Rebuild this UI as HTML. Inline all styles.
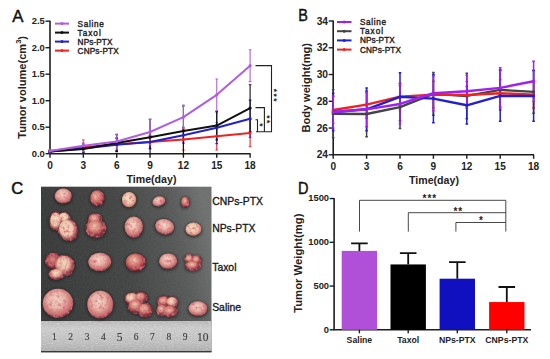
<!DOCTYPE html>
<html><head><meta charset="utf-8"><style>
html,body{margin:0;padding:0;background:#fff;width:550px;height:359px;overflow:hidden}
svg{display:block}
text{font-family:"Liberation Sans", sans-serif}
.serif{font-family:"Liberation Serif",serif}
</style></head><body>
<svg width="550" height="359" viewBox="0 0 550 359">
<defs>
<linearGradient id="ruler" x1="0" y1="0" x2="0" y2="1">
<stop offset="0" stop-color="#b8b8b8"/><stop offset="0.25" stop-color="#cacaca"/><stop offset="0.7" stop-color="#bebebe"/><stop offset="1" stop-color="#acacac"/></linearGradient>
<linearGradient id="bg" x1="0" y1="0.55" x2="1" y2="0.35"><stop offset="0" stop-color="#333534"/><stop offset="0.5" stop-color="#3f4140"/><stop offset="0.82" stop-color="#555756"/><stop offset="1" stop-color="#6c6e6d"/></linearGradient>
<radialGradient id="tp" cx="0.45" cy="0.4" r="0.62"><stop offset="0" stop-color="#f4d6c8"/><stop offset="0.45" stop-color="#e6b4a6"/><stop offset="0.8" stop-color="#c4706c"/><stop offset="1" stop-color="#62242c"/></radialGradient>
<radialGradient id="tr" cx="0.42" cy="0.38" r="0.64"><stop offset="0" stop-color="#f2ccb0"/><stop offset="0.35" stop-color="#d8927c"/><stop offset="0.75" stop-color="#ac3c44"/><stop offset="1" stop-color="#5a1c24"/></radialGradient>
<radialGradient id="td" cx="0.45" cy="0.42" r="0.62"><stop offset="0" stop-color="#d89080"/><stop offset="0.6" stop-color="#a84a50"/><stop offset="1" stop-color="#5a2430"/></radialGradient>
<radialGradient id="tl" cx="0.45" cy="0.42" r="0.62"><stop offset="0" stop-color="#f6e2c8"/><stop offset="0.55" stop-color="#ecc4a8"/><stop offset="0.85" stop-color="#cc8a78"/><stop offset="1" stop-color="#7a3a3e"/></radialGradient>
<filter id="mot" x="-10%" y="-10%" width="120%" height="120%">
<feTurbulence type="fractalNoise" baseFrequency="0.3" numOctaves="3" seed="11" result="n"/>
<feColorMatrix in="n" type="matrix" values="0 0 0 0 0.70  0 0 0 0 0.16  0 0 0 0 0.22  0 0 0 -2.6 1.45" result="spots"/>
<feComposite in="spots" in2="SourceAlpha" operator="in" result="sp"/>
<feMerge result="m"><feMergeNode in="SourceGraphic"/><feMergeNode in="sp"/></feMerge>
<feGaussianBlur in="m" stdDeviation="0.55"/>
</filter>
<filter id="grain" x="0" y="0" width="100%" height="100%">
<feTurbulence type="fractalNoise" baseFrequency="0.6" numOctaves="1" seed="3"/>
<feColorMatrix type="matrix" values="0 0 0 0 0.5  0 0 0 0 0.5  0 0 0 0 0.5  1 0 0 0 0"/>
<feComposite in2="SourceAlpha" operator="in"/>
</filter>
<filter id="grain2" x="0" y="0" width="100%" height="100%">
<feTurbulence type="fractalNoise" baseFrequency="0.35 0.9" numOctaves="2" seed="5"/>
<feColorMatrix type="matrix" values="0 0 0 0 1  0 0 0 0 1  0 0 0 0 1  0 0 0 -2 1.1"/>
<feComposite in2="SourceAlpha" operator="in"/>
</filter>
<filter id="shad" x="-20%" y="-20%" width="140%" height="140%"><feGaussianBlur stdDeviation="0.8"/></filter>
<radialGradient id="bp" cx="0.45" cy="0.4" r="0.6"><stop offset="0" stop-color="#f4dcc4"/><stop offset="0.55" stop-color="#e6b8a0"/><stop offset="1" stop-color="#c47468" stop-opacity="0"/></radialGradient>
<radialGradient id="br" cx="0.42" cy="0.38" r="0.6"><stop offset="0" stop-color="#f0c4aa"/><stop offset="0.45" stop-color="#d48c7a"/><stop offset="1" stop-color="#ac3c44" stop-opacity="0"/></radialGradient>
<radialGradient id="bl" cx="0.45" cy="0.42" r="0.6"><stop offset="0" stop-color="#f6e2c8"/><stop offset="0.6" stop-color="#ecc4a8"/><stop offset="1" stop-color="#cc8a78" stop-opacity="0"/></radialGradient>
<radialGradient id="bd" cx="0.45" cy="0.42" r="0.6"><stop offset="0" stop-color="#d89080"/><stop offset="0.6" stop-color="#a84a50"/><stop offset="1" stop-color="#8a3a40" stop-opacity="0"/></radialGradient>
<filter id="soft"><feGaussianBlur stdDeviation="0.35"/></filter>
</defs>
<rect width="550" height="359" fill="#fff"/>
<rect x="41" y="186.7" width="170.5" height="165.5" fill="url(#bg)"/><rect x="41" y="186.7" width="170.5" height="134.5" fill="#808080" filter="url(#grain)" opacity="0.12"/><rect x="41" y="321" width="170.5" height="30.5" fill="url(#ruler)"/><rect x="41" y="321" width="170.5" height="30.5" fill="#888" filter="url(#grain2)" opacity="0.35"/><rect x="41" y="351" width="170.5" height="1.3" fill="#3a3a3a"/><g filter="url(#soft)"><text x="54.3" y="339.8" class="serif" font-size="9.5" text-anchor="middle" fill="#404040" stroke="#404040" stroke-width="0.15">1</text><text x="70.65" y="339.8" class="serif" font-size="9.5" text-anchor="middle" fill="#404040" stroke="#404040" stroke-width="0.15">2</text><text x="87" y="339.8" class="serif" font-size="9.5" text-anchor="middle" fill="#404040" stroke="#404040" stroke-width="0.15">3</text><text x="103.35" y="339.8" class="serif" font-size="9.5" text-anchor="middle" fill="#404040" stroke="#404040" stroke-width="0.15">4</text><text x="119.7" y="340.6" class="serif" font-size="11.5" text-anchor="middle" fill="#404040" stroke="#404040" stroke-width="0.15">5</text><text x="136.05" y="339.8" class="serif" font-size="9.5" text-anchor="middle" fill="#404040" stroke="#404040" stroke-width="0.15">6</text><text x="152.4" y="339.8" class="serif" font-size="9.5" text-anchor="middle" fill="#404040" stroke="#404040" stroke-width="0.15">7</text><text x="168.75" y="339.8" class="serif" font-size="9.5" text-anchor="middle" fill="#404040" stroke="#404040" stroke-width="0.15">8</text><text x="185.1" y="339.8" class="serif" font-size="9.5" text-anchor="middle" fill="#404040" stroke="#404040" stroke-width="0.15">9</text><text x="202.75" y="340.6" class="serif" font-size="11.5" text-anchor="middle" fill="#404040" stroke="#404040" stroke-width="0.15">10</text></g><g fill="#1e1a1a" opacity="0.55" filter="url(#shad)"><ellipse cx="63.3" cy="196.8" rx="9.799999999999999" ry="8.7"/><ellipse cx="97.3" cy="198.9" rx="8.299999999999999" ry="9.1"/><ellipse cx="129.1" cy="200.5" rx="8.299999999999999" ry="8.799999999999999"/><ellipse cx="159" cy="202.10000000000002" rx="7.8" ry="6.1000000000000005" transform="rotate(-15 159 201.3)"/><ellipse cx="185.2" cy="202.8" rx="5.3" ry="6.4"/><ellipse cx="55.8" cy="221.8" rx="7.4" ry="10.399999999999999"/><ellipse cx="64" cy="218.3" rx="7.2" ry="6.2"/><ellipse cx="68" cy="230.60000000000002" rx="10.799999999999999" ry="12.399999999999999" transform="rotate(-20 68 229.8)"/><ellipse cx="95" cy="220.3" rx="8.2" ry="7.2"/><ellipse cx="96" cy="229.3" rx="11.399999999999999" ry="10.5"/><ellipse cx="133.8" cy="227.8" rx="10.399999999999999" ry="11.7"/><ellipse cx="164.7" cy="227.60000000000002" rx="10.799999999999999" ry="8.799999999999999" transform="rotate(15 164.7 226.8)"/><ellipse cx="193.5" cy="230.0" rx="9.1" ry="7.8"/><ellipse cx="53.2" cy="261.40000000000003" rx="9.0" ry="9.0"/><ellipse cx="64.4" cy="266.3" rx="11.2" ry="11.7"/><ellipse cx="56.6" cy="274.8" rx="9.0" ry="6.7"/><ellipse cx="99.8" cy="262.8" rx="12.6" ry="10.399999999999999"/><ellipse cx="135.7" cy="263.2" rx="11.2" ry="10.1"/><ellipse cx="168.2" cy="262.1" rx="10.299999999999999" ry="9.0"/><ellipse cx="189.5" cy="259.8" rx="6.0" ry="5.7"/><ellipse cx="196.5" cy="260.8" rx="6.0" ry="5.7"/><ellipse cx="193" cy="266.3" rx="9.0" ry="6.2"/><ellipse cx="58" cy="304.0" rx="16.4" ry="15.7"/><ellipse cx="100.3" cy="305.40000000000003" rx="14.2" ry="15.1"/><ellipse cx="132" cy="299.3" rx="8.2" ry="7.2"/><ellipse cx="141" cy="298.3" rx="7.7" ry="6.7"/><ellipse cx="136" cy="306.8" rx="9.2" ry="8.7"/><ellipse cx="145" cy="310.8" rx="8.7" ry="8.2"/><ellipse cx="164" cy="302.3" rx="7.7" ry="6.7"/><ellipse cx="172" cy="302.8" rx="7.2" ry="6.7"/><ellipse cx="162" cy="310.8" rx="6.7" ry="7.2"/><ellipse cx="170" cy="311.8" rx="8.7" ry="7.0"/><ellipse cx="198" cy="309.40000000000003" rx="10.7" ry="8.5"/></g><g filter="url(#mot)"><ellipse cx="63.3" cy="196" rx="8.6" ry="7.5" fill="url(#tp)"/><ellipse cx="97.3" cy="198.1" rx="7.1" ry="7.9" fill="url(#tr)"/><ellipse cx="129.1" cy="199.7" rx="7.1" ry="7.6" fill="url(#tl)"/><ellipse cx="159" cy="201.3" rx="6.6" ry="4.9" fill="url(#tp)" transform="rotate(-15 159 201.3)"/><ellipse cx="185.2" cy="202" rx="4.1" ry="5.2" fill="url(#tr)"/><g><ellipse cx="55.8" cy="221" rx="6.5" ry="9.5" fill="#7a3038"/><ellipse cx="64" cy="217.5" rx="6.3" ry="5.3" fill="#7a3038"/><ellipse cx="68" cy="229.8" rx="9.9" ry="11.5" fill="#7a3038" transform="rotate(-20 68 229.8)"/><ellipse cx="55.8" cy="221" rx="5.77" ry="8.56" fill="url(#bl)"/><ellipse cx="64" cy="217.5" rx="5.58" ry="4.65" fill="url(#bl)"/><ellipse cx="68" cy="229.8" rx="8.93" ry="10.42" fill="url(#bl)" transform="rotate(-20 68 229.8)"/></g><g><ellipse cx="95" cy="219.5" rx="7.3" ry="6.3" fill="#7a3038"/><ellipse cx="96" cy="228.5" rx="10.5" ry="9.600000000000001" fill="#7a3038"/><ellipse cx="95" cy="219.5" rx="6.51" ry="5.58" fill="url(#br)"/><ellipse cx="96" cy="228.5" rx="9.49" ry="8.65" fill="url(#br)"/></g><ellipse cx="133.8" cy="227" rx="9.2" ry="10.5" fill="url(#tp)"/><ellipse cx="164.7" cy="226.8" rx="9.6" ry="7.6" fill="url(#tp)" transform="rotate(15 164.7 226.8)"/><ellipse cx="193.5" cy="229.2" rx="7.9" ry="6.6" fill="url(#tl)"/><g><ellipse cx="53.2" cy="260.6" rx="8.1" ry="8.1" fill="#7a3038"/><ellipse cx="64.4" cy="265.5" rx="10.3" ry="10.8" fill="#7a3038"/><ellipse cx="56.6" cy="274" rx="8.1" ry="5.8" fill="#7a3038"/><ellipse cx="53.2" cy="260.6" rx="7.25" ry="7.25" fill="url(#bd)"/><ellipse cx="64.4" cy="265.5" rx="9.3" ry="9.77" fill="url(#bp)"/><ellipse cx="56.6" cy="274" rx="7.25" ry="5.12" fill="url(#bp)"/></g><ellipse cx="99.8" cy="262" rx="11.4" ry="9.2" fill="url(#tp)"/><ellipse cx="135.7" cy="262.4" rx="10" ry="8.9" fill="url(#tr)"/><ellipse cx="168.2" cy="261.3" rx="9.1" ry="7.8" fill="url(#tp)"/><g><ellipse cx="189.5" cy="259" rx="5.1" ry="4.8" fill="#7a3038"/><ellipse cx="196.5" cy="260" rx="5.1" ry="4.8" fill="#7a3038"/><ellipse cx="193" cy="265.5" rx="8.1" ry="5.3" fill="#7a3038"/><ellipse cx="189.5" cy="259" rx="4.46" ry="4.19" fill="url(#br)"/><ellipse cx="196.5" cy="260" rx="4.46" ry="4.19" fill="url(#br)"/><ellipse cx="193" cy="265.5" rx="7.25" ry="4.65" fill="url(#br)"/></g><ellipse cx="58" cy="303.2" rx="15.2" ry="14.5" fill="url(#tp)"/><ellipse cx="100.3" cy="304.6" rx="13" ry="13.9" fill="url(#tp)"/><g><ellipse cx="132" cy="298.5" rx="7.3" ry="6.3" fill="#7a3038"/><ellipse cx="141" cy="297.5" rx="6.8" ry="5.8" fill="#7a3038"/><ellipse cx="136" cy="306" rx="8.3" ry="7.8" fill="#7a3038"/><ellipse cx="145" cy="310" rx="7.8" ry="7.3" fill="#7a3038"/><ellipse cx="132" cy="298.5" rx="6.51" ry="5.58" fill="url(#bp)"/><ellipse cx="141" cy="297.5" rx="6.04" ry="5.12" fill="url(#br)"/><ellipse cx="136" cy="306" rx="7.44" ry="6.98" fill="url(#br)"/><ellipse cx="145" cy="310" rx="6.98" ry="6.51" fill="url(#br)"/></g><g><ellipse cx="164" cy="301.5" rx="6.8" ry="5.8" fill="#7a3038"/><ellipse cx="172" cy="302" rx="6.3" ry="5.8" fill="#7a3038"/><ellipse cx="162" cy="310" rx="5.8" ry="6.3" fill="#7a3038"/><ellipse cx="170" cy="311" rx="7.8" ry="6.1" fill="#7a3038"/><ellipse cx="164" cy="301.5" rx="6.04" ry="5.12" fill="url(#br)"/><ellipse cx="172" cy="302" rx="5.58" ry="5.12" fill="url(#bp)"/><ellipse cx="162" cy="310" rx="5.12" ry="5.58" fill="url(#br)"/><ellipse cx="170" cy="311" rx="6.98" ry="5.39" fill="url(#br)"/></g><ellipse cx="198" cy="308.6" rx="9.5" ry="7.3" fill="url(#tp)"/></g><g fill="#161616" stroke="#161616" stroke-width="0.32" font-size="10.4"><text x="212.2" y="205.2">CNPs-PTX</text><text x="212.2" y="232">NPs-PTX</text><text x="212.2" y="271.2">Taxol</text><text x="212.2" y="310.8">Saline</text></g>
<text x="12.3" y="21.6" font-size="16.8" stroke="#111" stroke-width="0.45" fill="#111">A</text><text transform="translate(298.3,21.4) scale(0.86,1)" font-size="16.8" stroke="#111" stroke-width="0.45" fill="#111">B</text><text x="11.3" y="193.5" font-size="16.5" stroke="#111" stroke-width="0.55" fill="#111">C</text><text transform="translate(298,193.6) scale(0.88,1)" font-size="16.5" stroke="#111" stroke-width="0.45" fill="#111">D</text><path d="M50.0,20.69999999999999 V153.7 H250.60000000000002" stroke="#1e1e1e" stroke-width="1.6" fill="none"/><path d="M45.5,153.7 H50.0" stroke="#1e1e1e" stroke-width="1.4"/><text x="44.8" y="156.6" font-size="9.4" font-weight="bold" text-anchor="end" fill="#222">0.0</text><path d="M45.5,127.2 H50.0" stroke="#1e1e1e" stroke-width="1.4"/><text x="44.8" y="130.1" font-size="9.4" font-weight="bold" text-anchor="end" fill="#222">0.5</text><path d="M45.5,100.7 H50.0" stroke="#1e1e1e" stroke-width="1.4"/><text x="44.8" y="103.6" font-size="9.4" font-weight="bold" text-anchor="end" fill="#222">1.0</text><path d="M45.5,74.2 H50.0" stroke="#1e1e1e" stroke-width="1.4"/><text x="44.8" y="77.1" font-size="9.4" font-weight="bold" text-anchor="end" fill="#222">1.5</text><path d="M45.5,47.7 H50.0" stroke="#1e1e1e" stroke-width="1.4"/><text x="44.8" y="50.6" font-size="9.4" font-weight="bold" text-anchor="end" fill="#222">2.0</text><path d="M45.5,21.2 H50.0" stroke="#1e1e1e" stroke-width="1.4"/><text x="44.8" y="24.1" font-size="9.4" font-weight="bold" text-anchor="end" fill="#222">2.5</text><path d="M50,153.7 V157.7" stroke="#1e1e1e" stroke-width="1.4"/><text x="50" y="169" font-size="10.1" font-weight="bold" text-anchor="middle" fill="#222">0</text><path d="M83.35,153.7 V157.7" stroke="#1e1e1e" stroke-width="1.4"/><text x="83.35" y="169" font-size="10.1" font-weight="bold" text-anchor="middle" fill="#222">3</text><path d="M116.7,153.7 V157.7" stroke="#1e1e1e" stroke-width="1.4"/><text x="116.7" y="169" font-size="10.1" font-weight="bold" text-anchor="middle" fill="#222">6</text><path d="M150.05,153.7 V157.7" stroke="#1e1e1e" stroke-width="1.4"/><text x="150.05" y="169" font-size="10.1" font-weight="bold" text-anchor="middle" fill="#222">9</text><path d="M183.4,153.7 V157.7" stroke="#1e1e1e" stroke-width="1.4"/><text x="183.4" y="169" font-size="10.1" font-weight="bold" text-anchor="middle" fill="#222">12</text><path d="M216.75,153.7 V157.7" stroke="#1e1e1e" stroke-width="1.4"/><text x="216.75" y="169" font-size="10.1" font-weight="bold" text-anchor="middle" fill="#222">15</text><path d="M250.1,153.7 V157.7" stroke="#1e1e1e" stroke-width="1.4"/><text x="250.1" y="169" font-size="10.1" font-weight="bold" text-anchor="middle" fill="#222">18</text><text x="151.5" y="182.5" font-size="10.6" font-weight="bold" text-anchor="middle" fill="#222">Time(day)</text><text transform="translate(26.4,87.4) rotate(-90)" font-size="11.05" font-weight="bold" text-anchor="middle" fill="#222">Tumor volume(cm<tspan font-size="7.5" dy="-5">3</tspan><tspan dy="5">)</tspan></text><path d="M50,149.46 V152.64 M48.7,149.46 H51.3 M48.7,152.64 H51.3" stroke="#ee2222" stroke-width="1.1" fill="none"/><path d="M83.35,143.1 V151.58 M82.05,143.1 H84.65 M82.05,151.58 H84.65" stroke="#ee2222" stroke-width="1.1" fill="none"/><path d="M116.7,137.8 V150.52 M115.4,137.8 H118 M115.4,150.52 H118" stroke="#ee2222" stroke-width="1.1" fill="none"/><path d="M150.05,135.15 V148.93 M148.75,135.15 H151.35 M148.75,148.93 H151.35" stroke="#ee2222" stroke-width="1.1" fill="none"/><path d="M183.4,128.79 V149.99 M182.1,128.79 H184.7 M182.1,149.99 H184.7" stroke="#ee2222" stroke-width="1.1" fill="none"/><path d="M216.75,122.43 V149.99 M215.45,122.43 H218.05 M215.45,149.99 H218.05" stroke="#ee2222" stroke-width="1.1" fill="none"/><path d="M250.1,119.25 V146.81 M248.8,119.25 H251.4 M248.8,146.81 H251.4" stroke="#ee2222" stroke-width="1.1" fill="none"/><path d="M50,150.52 V152.64 M48.7,150.52 H51.3 M48.7,152.64 H51.3" stroke="#2222c8" stroke-width="1.1" fill="none"/><path d="M83.35,144.69 V152.11 M82.05,144.69 H84.65 M82.05,152.11 H84.65" stroke="#2222c8" stroke-width="1.1" fill="none"/><path d="M116.7,138.33 V151.05 M115.4,138.33 H118 M115.4,151.05 H118" stroke="#2222c8" stroke-width="1.1" fill="none"/><path d="M150.05,135.68 V148.4 M148.75,135.68 H151.35 M148.75,148.4 H151.35" stroke="#2222c8" stroke-width="1.1" fill="none"/><path d="M183.4,127.2 V143.1 M182.1,127.2 H184.7 M182.1,143.1 H184.7" stroke="#2222c8" stroke-width="1.1" fill="none"/><path d="M216.75,111.83 V143.63 M215.45,111.83 H218.05 M215.45,143.63 H218.05" stroke="#2222c8" stroke-width="1.1" fill="none"/><path d="M250.1,100.17 V137.27 M248.8,100.17 H251.4 M248.8,137.27 H251.4" stroke="#2222c8" stroke-width="1.1" fill="none"/><path d="M50,150.52 V152.64 M48.7,150.52 H51.3 M48.7,152.64 H51.3" stroke="#111111" stroke-width="1.1" fill="none"/><path d="M83.35,145.75 V152.11 M82.05,145.75 H84.65 M82.05,152.11 H84.65" stroke="#111111" stroke-width="1.1" fill="none"/><path d="M116.7,134.62 V151.58 M115.4,134.62 H118 M115.4,151.58 H118" stroke="#111111" stroke-width="1.1" fill="none"/><path d="M150.05,119.25 V153.7 M148.75,119.25 H151.35 M148.75,153.7 H151.35" stroke="#111111" stroke-width="1.1" fill="none"/><path d="M183.4,106 V153.7 M182.1,106 H184.7 M182.1,153.7 H184.7" stroke="#111111" stroke-width="1.1" fill="none"/><path d="M216.75,111.3 V139.92 M215.45,111.3 H218.05 M215.45,139.92 H218.05" stroke="#111111" stroke-width="1.1" fill="none"/><path d="M250.1,84.8 V131.44 M248.8,84.8 H251.4 M248.8,131.44 H251.4" stroke="#111111" stroke-width="1.1" fill="none"/><path d="M50,149.46 V152.64 M48.7,149.46 H51.3 M48.7,152.64 H51.3" stroke="#b05ee0" stroke-width="1.1" fill="none"/><path d="M83.35,139.92 V151.58 M82.05,139.92 H84.65 M82.05,151.58 H84.65" stroke="#b05ee0" stroke-width="1.1" fill="none"/><path d="M116.7,134.09 V148.93 M115.4,134.09 H118 M115.4,148.93 H118" stroke="#b05ee0" stroke-width="1.1" fill="none"/><path d="M150.05,119.25 V144.69 M148.75,119.25 H151.35 M148.75,144.69 H151.35" stroke="#b05ee0" stroke-width="1.1" fill="none"/><path d="M183.4,104.94 V129.32 M182.1,104.94 H184.7 M182.1,129.32 H184.7" stroke="#b05ee0" stroke-width="1.1" fill="none"/><path d="M216.75,78.97 V110.77 M215.45,78.97 H218.05 M215.45,110.77 H218.05" stroke="#b05ee0" stroke-width="1.1" fill="none"/><path d="M250.1,49.82 V81.62 M248.8,49.82 H251.4 M248.8,81.62 H251.4" stroke="#b05ee0" stroke-width="1.1" fill="none"/><polyline points="50,151.05 83.35,147.34 116.7,144.16 150.05,142.04 183.4,139.39 216.75,136.21 250.1,133.03" stroke="#ee2222" stroke-width="2" fill="none" stroke-linejoin="round"/><circle cx="50" cy="151.05" r="1.6" fill="#ee2222"/><circle cx="83.35" cy="147.34" r="1.6" fill="#ee2222"/><circle cx="116.7" cy="144.16" r="1.6" fill="#ee2222"/><circle cx="150.05" cy="142.04" r="1.6" fill="#ee2222"/><circle cx="183.4" cy="139.39" r="1.6" fill="#ee2222"/><circle cx="216.75" cy="136.21" r="1.6" fill="#ee2222"/><circle cx="250.1" cy="133.03" r="1.6" fill="#ee2222"/><polyline points="50,151.58 83.35,148.4 116.7,144.69 150.05,142.04 183.4,135.15 216.75,127.73 250.1,118.72" stroke="#2222c8" stroke-width="2" fill="none" stroke-linejoin="round"/><circle cx="50" cy="151.58" r="1.6" fill="#2222c8"/><circle cx="83.35" cy="148.4" r="1.6" fill="#2222c8"/><circle cx="116.7" cy="144.69" r="1.6" fill="#2222c8"/><circle cx="150.05" cy="142.04" r="1.6" fill="#2222c8"/><circle cx="183.4" cy="135.15" r="1.6" fill="#2222c8"/><circle cx="216.75" cy="127.73" r="1.6" fill="#2222c8"/><circle cx="250.1" cy="118.72" r="1.6" fill="#2222c8"/><polyline points="50,151.58 83.35,148.93 116.7,143.1 150.05,137.27 183.4,130.91 216.75,125.61 250.1,108.12" stroke="#111111" stroke-width="2" fill="none" stroke-linejoin="round"/><circle cx="50" cy="151.58" r="1.6" fill="#111111"/><circle cx="83.35" cy="148.93" r="1.6" fill="#111111"/><circle cx="116.7" cy="143.1" r="1.6" fill="#111111"/><circle cx="150.05" cy="137.27" r="1.6" fill="#111111"/><circle cx="183.4" cy="130.91" r="1.6" fill="#111111"/><circle cx="216.75" cy="125.61" r="1.6" fill="#111111"/><circle cx="250.1" cy="108.12" r="1.6" fill="#111111"/><polyline points="50,151.05 83.35,145.75 116.7,141.51 150.05,131.97 183.4,117.13 216.75,94.87 250.1,65.72" stroke="#b05ee0" stroke-width="2" fill="none" stroke-linejoin="round"/><circle cx="50" cy="151.05" r="1.6" fill="#b05ee0"/><circle cx="83.35" cy="145.75" r="1.6" fill="#b05ee0"/><circle cx="116.7" cy="141.51" r="1.6" fill="#b05ee0"/><circle cx="150.05" cy="131.97" r="1.6" fill="#b05ee0"/><circle cx="183.4" cy="117.13" r="1.6" fill="#b05ee0"/><circle cx="216.75" cy="94.87" r="1.6" fill="#b05ee0"/><circle cx="250.1" cy="65.72" r="1.6" fill="#b05ee0"/><path d="M55,23.6 H69" stroke="#b05ee0" stroke-width="2"/><circle cx="62" cy="23.6" r="1.5" fill="#b05ee0"/><text x="77.6" y="26.6" font-size="8.2" stroke="#222" stroke-width="0.38" letter-spacing="0.7" fill="#222">Saline</text><path d="M55,32.6 H69" stroke="#111111" stroke-width="2"/><circle cx="62" cy="32.6" r="1.5" fill="#111111"/><text x="77.6" y="35.6" font-size="8.2" stroke="#222" stroke-width="0.38" letter-spacing="1.0" fill="#222">Taxol</text><path d="M55,41.6 H69" stroke="#2222c8" stroke-width="2"/><circle cx="62" cy="41.6" r="1.5" fill="#2222c8"/><text x="77.6" y="44.6" font-size="8.2" stroke="#222" stroke-width="0.38" letter-spacing="0.12" fill="#222">NPs-PTX</text><path d="M55,50.6 H69" stroke="#ee2222" stroke-width="2"/><circle cx="62" cy="50.6" r="1.5" fill="#ee2222"/><text x="77.6" y="53.6" font-size="8.2" stroke="#222" stroke-width="0.38" letter-spacing="0.15" fill="#222">CNPs-PTX</text><path d="M255.5,65.6 H271.5 V131.8 H256" stroke="#222" stroke-width="1.1" fill="none"/><path d="M255.5,107.6 H264.4 V131.8" stroke="#222" stroke-width="1.1" fill="none"/><path d="M255.5,119.7 H257.5 V131.8" stroke="#222" stroke-width="1.1" fill="none"/><text transform="translate(270.6,95.8) rotate(90)" font-size="8.2" font-weight="bold" letter-spacing="1.5" text-anchor="middle" fill="#222">***</text><text transform="translate(264,120) rotate(90)" font-size="8.2" font-weight="bold" letter-spacing="1.5" text-anchor="middle" fill="#222">**</text><text transform="translate(257.2,124.8) rotate(90)" font-size="8.2" font-weight="bold" text-anchor="middle" fill="#222">*</text><path d="M333.2,20.5 V154.8 H534.1" stroke="#1e1e1e" stroke-width="1.6" fill="none"/><path d="M328.7,154.8 H333.2" stroke="#1e1e1e" stroke-width="1.4"/><text x="328" y="158.4" font-size="10.2" font-weight="bold" text-anchor="end" fill="#222">24</text><path d="M328.7,128.04 H333.2" stroke="#1e1e1e" stroke-width="1.4"/><text x="328" y="131.64" font-size="10.2" font-weight="bold" text-anchor="end" fill="#222">26</text><path d="M328.7,101.28 H333.2" stroke="#1e1e1e" stroke-width="1.4"/><text x="328" y="104.88" font-size="10.2" font-weight="bold" text-anchor="end" fill="#222">28</text><path d="M328.7,74.52 H333.2" stroke="#1e1e1e" stroke-width="1.4"/><text x="328" y="78.12" font-size="10.2" font-weight="bold" text-anchor="end" fill="#222">30</text><path d="M328.7,47.76 H333.2" stroke="#1e1e1e" stroke-width="1.4"/><text x="328" y="51.36" font-size="10.2" font-weight="bold" text-anchor="end" fill="#222">32</text><path d="M328.7,21 H333.2" stroke="#1e1e1e" stroke-width="1.4"/><text x="328" y="24.6" font-size="10.2" font-weight="bold" text-anchor="end" fill="#222">34</text><path d="M333.2,154.8 V158.8" stroke="#1e1e1e" stroke-width="1.4"/><text x="333.2" y="169.7" font-size="10.1" font-weight="bold" text-anchor="middle" fill="#222">0</text><path d="M366.6,154.8 V158.8" stroke="#1e1e1e" stroke-width="1.4"/><text x="366.6" y="169.7" font-size="10.1" font-weight="bold" text-anchor="middle" fill="#222">3</text><path d="M400,154.8 V158.8" stroke="#1e1e1e" stroke-width="1.4"/><text x="400" y="169.7" font-size="10.1" font-weight="bold" text-anchor="middle" fill="#222">6</text><path d="M433.4,154.8 V158.8" stroke="#1e1e1e" stroke-width="1.4"/><text x="433.4" y="169.7" font-size="10.1" font-weight="bold" text-anchor="middle" fill="#222">9</text><path d="M466.8,154.8 V158.8" stroke="#1e1e1e" stroke-width="1.4"/><text x="466.8" y="169.7" font-size="10.1" font-weight="bold" text-anchor="middle" fill="#222">12</text><path d="M500.2,154.8 V158.8" stroke="#1e1e1e" stroke-width="1.4"/><text x="500.2" y="169.7" font-size="10.1" font-weight="bold" text-anchor="middle" fill="#222">15</text><path d="M533.6,154.8 V158.8" stroke="#1e1e1e" stroke-width="1.4"/><text x="533.6" y="169.7" font-size="10.1" font-weight="bold" text-anchor="middle" fill="#222">18</text><text x="434" y="183.5" font-size="10.6" font-weight="bold" text-anchor="middle" fill="#222">Time(day)</text><text transform="translate(310.3,87.8) rotate(-90)" font-size="11.05" font-weight="bold" text-anchor="middle" fill="#222">Body weight(mg)</text><path d="M333.2,89.64 V137.81 M331.9,89.64 H334.5 M331.9,137.81 H334.5" stroke="#444444" stroke-width="1.5" fill="none"/><path d="M366.6,91.25 V136.74 M365.3,91.25 H367.9 M365.3,136.74 H367.9" stroke="#444444" stroke-width="1.5" fill="none"/><path d="M400,85.76 V128.58 M398.7,85.76 H401.3 M398.7,128.58 H401.3" stroke="#444444" stroke-width="1.5" fill="none"/><path d="M433.4,72.51 V115.33 M432.1,72.51 H434.7 M432.1,115.33 H434.7" stroke="#444444" stroke-width="1.5" fill="none"/><path d="M466.8,73.18 V118.67 M465.5,73.18 H468.1 M465.5,118.67 H468.1" stroke="#444444" stroke-width="1.5" fill="none"/><path d="M500.2,69.84 V109.98 M498.9,69.84 H501.5 M498.9,109.98 H501.5" stroke="#444444" stroke-width="1.5" fill="none"/><path d="M533.6,70.51 V113.32 M532.3,70.51 H534.9 M532.3,113.32 H534.9" stroke="#444444" stroke-width="1.5" fill="none"/><path d="M333.2,96.6 V123.36 M331.9,96.6 H334.5 M331.9,123.36 H334.5" stroke="#ee2222" stroke-width="1.5" fill="none"/><path d="M366.6,91.25 V118.01 M365.3,91.25 H367.9 M365.3,118.01 H367.9" stroke="#ee2222" stroke-width="1.5" fill="none"/><path d="M400,83.22 V109.98 M398.7,83.22 H401.3 M398.7,109.98 H401.3" stroke="#ee2222" stroke-width="1.5" fill="none"/><path d="M433.4,81.21 V107.97 M432.1,81.21 H434.7 M432.1,107.97 H434.7" stroke="#ee2222" stroke-width="1.5" fill="none"/><path d="M466.8,81.61 V108.37 M465.5,81.61 H468.1 M465.5,108.37 H468.1" stroke="#ee2222" stroke-width="1.5" fill="none"/><path d="M500.2,79.87 V106.63 M498.9,79.87 H501.5 M498.9,106.63 H501.5" stroke="#ee2222" stroke-width="1.5" fill="none"/><path d="M533.6,81.21 V107.97 M532.3,81.21 H534.9 M532.3,107.97 H534.9" stroke="#ee2222" stroke-width="1.5" fill="none"/><path d="M333.2,93.25 V130.72 M331.9,93.25 H334.5 M331.9,130.72 H334.5" stroke="#2020d0" stroke-width="1.5" fill="none"/><path d="M366.6,87.9 V130.72 M365.3,87.9 H367.9 M365.3,130.72 H367.9" stroke="#2020d0" stroke-width="1.5" fill="none"/><path d="M400,72.78 V120.95 M398.7,72.78 H401.3 M398.7,120.95 H401.3" stroke="#2020d0" stroke-width="1.5" fill="none"/><path d="M433.4,74.52 V122.69 M432.1,74.52 H434.7 M432.1,122.69 H434.7" stroke="#2020d0" stroke-width="1.5" fill="none"/><path d="M466.8,86.56 V124.03 M465.5,86.56 H468.1 M465.5,124.03 H468.1" stroke="#2020d0" stroke-width="1.5" fill="none"/><path d="M500.2,70.51 V121.35 M498.9,70.51 H501.5 M498.9,121.35 H501.5" stroke="#2020d0" stroke-width="1.5" fill="none"/><path d="M533.6,70.51 V121.35 M532.3,70.51 H534.9 M532.3,121.35 H534.9" stroke="#2020d0" stroke-width="1.5" fill="none"/><path d="M333.2,95.93 V128.04 M331.9,95.93 H334.5 M331.9,128.04 H334.5" stroke="#a020f0" stroke-width="1.5" fill="none"/><path d="M366.6,91.91 V126.7 M365.3,91.91 H367.9 M365.3,126.7 H367.9" stroke="#a020f0" stroke-width="1.5" fill="none"/><path d="M400,83.89 V124.03 M398.7,83.89 H401.3 M398.7,124.03 H401.3" stroke="#a020f0" stroke-width="1.5" fill="none"/><path d="M433.4,75.86 V110.65 M432.1,75.86 H434.7 M432.1,110.65 H434.7" stroke="#a020f0" stroke-width="1.5" fill="none"/><path d="M466.8,75.19 V107.3 M465.5,75.19 H468.1 M465.5,107.3 H468.1" stroke="#a020f0" stroke-width="1.5" fill="none"/><path d="M500.2,67.83 V107.97 M498.9,67.83 H501.5 M498.9,107.97 H501.5" stroke="#a020f0" stroke-width="1.5" fill="none"/><path d="M533.6,61.14 V101.28 M532.3,61.14 H534.9 M532.3,101.28 H534.9" stroke="#a020f0" stroke-width="1.5" fill="none"/><polyline points="333.2,113.72 366.6,113.99 400,107.17 433.4,93.92 466.8,95.93 500.2,89.91 533.6,91.91" stroke="#444444" stroke-width="2.4" fill="none" stroke-linejoin="round"/><circle cx="333.2" cy="113.72" r="1.6" fill="#444444"/><circle cx="366.6" cy="113.99" r="1.6" fill="#444444"/><circle cx="400" cy="107.17" r="1.6" fill="#444444"/><circle cx="433.4" cy="93.92" r="1.6" fill="#444444"/><circle cx="466.8" cy="95.93" r="1.6" fill="#444444"/><circle cx="500.2" cy="89.91" r="1.6" fill="#444444"/><circle cx="533.6" cy="91.91" r="1.6" fill="#444444"/><polyline points="333.2,109.98 366.6,104.62 400,96.6 433.4,94.59 466.8,94.99 500.2,93.25 533.6,94.59" stroke="#ee2222" stroke-width="2.4" fill="none" stroke-linejoin="round"/><circle cx="333.2" cy="109.98" r="1.6" fill="#ee2222"/><circle cx="366.6" cy="104.62" r="1.6" fill="#ee2222"/><circle cx="400" cy="96.6" r="1.6" fill="#ee2222"/><circle cx="433.4" cy="94.59" r="1.6" fill="#ee2222"/><circle cx="466.8" cy="94.99" r="1.6" fill="#ee2222"/><circle cx="500.2" cy="93.25" r="1.6" fill="#ee2222"/><circle cx="533.6" cy="94.59" r="1.6" fill="#ee2222"/><polyline points="333.2,111.98 366.6,109.31 400,96.86 433.4,98.6 466.8,105.29 500.2,95.93 533.6,95.93" stroke="#2020d0" stroke-width="2.4" fill="none" stroke-linejoin="round"/><circle cx="333.2" cy="111.98" r="1.6" fill="#2020d0"/><circle cx="366.6" cy="109.31" r="1.6" fill="#2020d0"/><circle cx="400" cy="96.86" r="1.6" fill="#2020d0"/><circle cx="433.4" cy="98.6" r="1.6" fill="#2020d0"/><circle cx="466.8" cy="105.29" r="1.6" fill="#2020d0"/><circle cx="500.2" cy="95.93" r="1.6" fill="#2020d0"/><circle cx="533.6" cy="95.93" r="1.6" fill="#2020d0"/><polyline points="333.2,111.98 366.6,109.31 400,103.96 433.4,93.25 466.8,91.25 500.2,87.9 533.6,81.21" stroke="#a020f0" stroke-width="2.4" fill="none" stroke-linejoin="round"/><circle cx="333.2" cy="111.98" r="1.6" fill="#a020f0"/><circle cx="366.6" cy="109.31" r="1.6" fill="#a020f0"/><circle cx="400" cy="103.96" r="1.6" fill="#a020f0"/><circle cx="433.4" cy="93.25" r="1.6" fill="#a020f0"/><circle cx="466.8" cy="91.25" r="1.6" fill="#a020f0"/><circle cx="500.2" cy="87.9" r="1.6" fill="#a020f0"/><circle cx="533.6" cy="81.21" r="1.6" fill="#a020f0"/><path d="M337,22 H351.5" stroke="#a020f0" stroke-width="2"/><circle cx="344.2" cy="22" r="1.5" fill="#a020f0"/><text x="359.9" y="25" font-size="8.2" stroke="#222" stroke-width="0.38" letter-spacing="0.7" fill="#222">Saline</text><path d="M337,31.2 H351.5" stroke="#444444" stroke-width="2"/><circle cx="344.2" cy="31.2" r="1.5" fill="#444444"/><text x="359.9" y="34.2" font-size="8.2" stroke="#222" stroke-width="0.38" letter-spacing="1.0" fill="#222">Taxol</text><path d="M337,40.4 H351.5" stroke="#2020d0" stroke-width="2"/><circle cx="344.2" cy="40.4" r="1.5" fill="#2020d0"/><text x="359.9" y="43.4" font-size="8.2" stroke="#222" stroke-width="0.38" letter-spacing="0.12" fill="#222">NPs-PTX</text><path d="M337,49.6 H351.5" stroke="#ee2222" stroke-width="2"/><circle cx="344.2" cy="49.6" r="1.5" fill="#ee2222"/><text x="359.9" y="52.6" font-size="8.2" stroke="#222" stroke-width="0.38" letter-spacing="0.15" fill="#222">CNPs-PTX</text><path d="M334.1,198.05 V329.8 H531" stroke="#1e1e1e" stroke-width="1.6" fill="none"/><path d="M329.6,329.8 H334.1" stroke="#1e1e1e" stroke-width="1.4"/><text x="329" y="332.6" font-size="9.3" font-weight="bold" text-anchor="end" fill="#222">0</text><path d="M329.6,286.05 H334.1" stroke="#1e1e1e" stroke-width="1.4"/><text x="329" y="288.85" font-size="9.3" font-weight="bold" text-anchor="end" fill="#222">500</text><path d="M329.6,242.3 H334.1" stroke="#1e1e1e" stroke-width="1.4"/><text x="329" y="245.1" font-size="9.3" font-weight="bold" text-anchor="end" fill="#222">1000</text><path d="M329.6,198.55 H334.1" stroke="#1e1e1e" stroke-width="1.4"/><text x="329" y="201.35" font-size="9.3" font-weight="bold" text-anchor="end" fill="#222">1500</text><rect x="341.7" y="250.88" width="35.4" height="78.93" fill="#b050d8"/><path d="M359.4,250.88 V243.44 M351.1,243.44 H367.7" stroke="#111" stroke-width="1.8" fill="none"/><path d="M359.4,329.8 V333.3" stroke="#1e1e1e" stroke-width="1.4"/><text x="359.4" y="343" font-size="8.7" font-weight="bold" text-anchor="middle" fill="#222">Saline</text><rect x="390.5" y="264.44" width="35.4" height="65.36" fill="#000000"/><path d="M408.2,264.44 V253.06 M399.9,253.06 H416.5" stroke="#111" stroke-width="1.8" fill="none"/><path d="M408.2,329.8 V333.3" stroke="#1e1e1e" stroke-width="1.4"/><text x="408.2" y="343" font-size="8.7" font-weight="bold" text-anchor="middle" fill="#222">Taxol</text><rect x="439.6" y="278.7" width="35.4" height="51.1" fill="#1010c0"/><path d="M457.3,278.7 V262.08 M449,262.08 H465.6" stroke="#111" stroke-width="1.8" fill="none"/><path d="M457.3,329.8 V333.3" stroke="#1e1e1e" stroke-width="1.4"/><text x="457.3" y="343" font-size="8.7" font-weight="bold" text-anchor="middle" fill="#222">NPs-PTX</text><rect x="489.1" y="302.06" width="35.4" height="27.74" fill="#ff0000"/><path d="M506.8,302.06 V287.01 M498.5,287.01 H515.1" stroke="#111" stroke-width="1.8" fill="none"/><path d="M506.8,329.8 V333.3" stroke="#1e1e1e" stroke-width="1.4"/><text x="506.8" y="343" font-size="8.7" font-weight="bold" text-anchor="middle" fill="#222">CNPs-PTX</text><text transform="translate(301.6,263.2) rotate(-90)" font-size="11.3" font-weight="bold" text-anchor="middle" fill="#222">Tumor Weight(mg)</text><path d="M359.5,231.6 V200.3 H505.8 V231.6" stroke="#333" stroke-width="0.9" fill="none"/><path d="M408.3,231.6 V212.7 H505.8" stroke="#333" stroke-width="0.9" fill="none"/><path d="M455.9,231.6 V222.5 H505.8" stroke="#333" stroke-width="0.9" fill="none"/><text x="429.8" y="202.2" font-size="10" font-weight="bold" letter-spacing="0.9" text-anchor="middle" fill="#222">***</text><text x="458.3" y="214.6" font-size="10" font-weight="bold" letter-spacing="0.9" text-anchor="middle" fill="#222">**</text><text x="481" y="224.3" font-size="10" font-weight="bold" text-anchor="middle" fill="#222">*</text>
</svg></body></html>
